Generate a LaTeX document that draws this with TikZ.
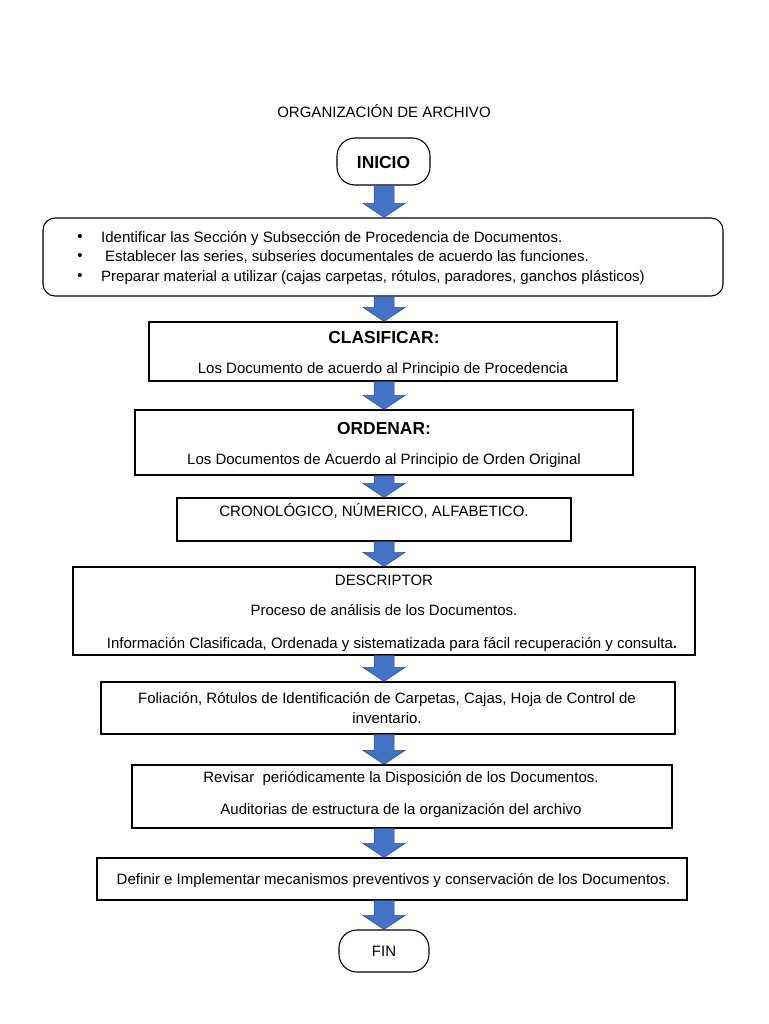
\documentclass[tikz,border=0pt]{standalone}
\usepackage{fontspec}
\setmainfont{Liberation Sans}
\usetikzlibrary{calc}
\definecolor{arrowfill}{HTML}{4472C4}
\definecolor{arrowline}{HTML}{2F528F}
\def\ax{384pt}
\newcommand\flowarrow[2]{%
  \filldraw[arrowfill, draw=arrowline, line width=0.5pt]
    let \p1=(#1.south), \p2=(#2.north) in
    (\ax-10pt,\y1) -- (\ax+10pt,\y1) -- (\ax+10pt,\y2+14pt) -- (\ax+21pt,\y2+14pt)
    -- (\ax,\y2) -- (\ax-21pt,\y2+14pt) -- (\ax-10pt,\y2+14pt) -- cycle;}
\begin{document}
\begin{tikzpicture}[x=1pt,y=-1pt,
  box/.style={draw=black, line width=1.1pt, fill=white, inner sep=0pt},
  rbox/.style={box, rounded corners=12pt},
  term/.style={box, rounded corners=18pt},
  txt/.style={inner sep=0pt, text height=10.8pt, text depth=0pt, font=\fontsize{15}{17}\selectfont},
  head/.style={inner sep=0pt, text height=12.5pt, text depth=0pt, font=\bfseries\fontsize{17.4}{19}\selectfont},
  bul/.style={inner sep=0pt, font=\fontsize{15}{17}\selectfont}]
\useasboundingbox (0,0) rectangle (768,1024);
\fill[white] (0,0) rectangle (768,1024);

\node[txt] (title) at (384,112) {ORGANIZACIÓN DE ARCHIVO};

% boxes
\node[term, minimum width=93pt, minimum height=47pt] (inicio) at (383.5,161.5) {};
\node[head] (tinicio) at (383.5,162) {INICIO};

\node[rbox, minimum width=680pt, minimum height=78pt] (b1) at (383,257) {};
\node[bul] (bu1) at (80,238) {\textbullet};
\node[bul] (bu2) at (80,257) {\textbullet};
\node[bul] (bu3) at (80,277) {\textbullet};
\node[txt, anchor=west] (l1) at (101,237) {Identificar las Sección y Subsección de Procedencia de Documentos.};
\node[txt, anchor=west] (l2) at (105,256) {Establecer las series, subseries documentales de acuerdo las funciones.};
\node[txt, anchor=west] (l3) at (101,276) {Preparar material a utilizar (cajas carpetas, rótulos, paradores, ganchos plásticos)};

\node[box, minimum width=468pt, minimum height=59pt] (clas) at (383,351.5) {};
\node[head] (tclas) at (384,337) {CLASIFICAR:};
\node[txt] (sclas) at (383,368) {Los Documento de acuerdo al Principio de Procedencia};

\node[box, minimum width=498pt, minimum height=65pt] (ord) at (384,442.5) {};
\node[head] (tord) at (384,428) {ORDENAR:};
\node[txt] (sord) at (384,459) {Los Documentos de Acuerdo al Principio de Orden Original};

\node[box, minimum width=394pt, minimum height=43pt] (cron) at (374,519.5) {};
\node[txt] (tcron) at (374,511) {CRONOLÓGICO, NÚMERICO, ALFABETICO.};

\node[box, minimum width=622pt, minimum height=88pt] (desc) at (384,611) {};
\node[txt] (d1) at (384,580) {DESCRIPTOR};
\node[txt] (d2) at (384,610) {Proceso de análisis de los Documentos.};
\node[txt] (d3) at (392,643) {Información Clasificada, Ordenada y sistematizada para fácil recuperación y consulta\textbf{.}};

\node[box, minimum width=574pt, minimum height=52pt] (fol) at (388,708) {};
\node[txt] (f1) at (387,698) {Foliación, Rótulos de Identificación de Carpetas, Cajas, Hoja de Control de};
\node[txt] (f2) at (387,718) {inventario.};

\node[box, minimum width=540pt, minimum height=63pt] (rev) at (402,796.5) {};
\node[txt] (r1) at (401,777) {Revisar\ \ periódicamente la Disposición de los Documentos.};
\node[txt] (r2) at (401,809) {Auditorias de estructura de la organización del archivo};

\node[box, minimum width=590pt, minimum height=42pt] (def) at (392,879) {};
\node[txt] (tdef) at (393.5,879) {Definir e Implementar mecanismos preventivos y conservación de los Documentos.};

\node[term, minimum width=90pt, minimum height=42pt] (fin) at (384,951) {};
\node[txt] (tfin) at (384,951) {FIN};

% arrows
\flowarrow{inicio}{b1}
\flowarrow{b1}{clas}
\flowarrow{clas}{ord}
\flowarrow{ord}{cron}
\flowarrow{cron}{desc}
\flowarrow{desc}{fol}
\flowarrow{fol}{rev}
\flowarrow{rev}{def}
\flowarrow{def}{fin}
\end{tikzpicture}
\end{document}
